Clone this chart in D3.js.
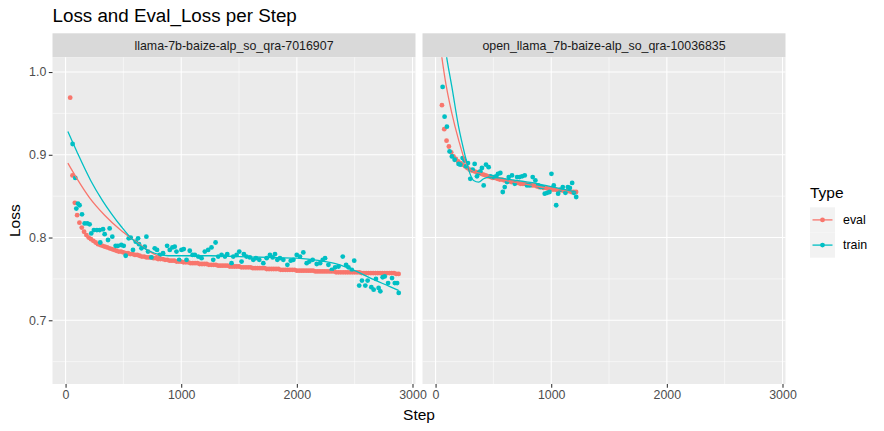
<!DOCTYPE html>
<html>
<head>
<meta charset="utf-8">
<script src="https://cdn.jsdelivr.net/npm/d3@7"></script>
<style>
  body { margin: 0; background: #fff; }
  text { font-family: "Liberation Sans", Arial, Helvetica, sans-serif; }
</style>
</head>
<body>
<svg id="chart" width="884" height="431"></svg>
<script>
const facetNames = ["llama-7b-baize-alp_so_qra-7016907", "open_llama_7b-baize-alp_so_qra-10036835"];
const typeNames = ["eval", "train"];
const typeColors = ["#F8766D", "#00BFC4"];
const xTicks = [0, 1000, 2000, 3000];
const yTicks = [0.7, 0.8, 0.9, 1.0];

// facet 1: llama-7b
const evalSteps1 = d3.range(40, 2881, 20);
const evalLoss1 = [
  .969, .875, .842, .827, .818, .812, .807, .803, .800, .798,
  .796, .794, .792, .791, .790, .789, .788, .787, .786, .785,
  .784, .783, .783, .782, .781, .781, .780, .780, .779, .779,
  .778, .777, .777, .776, .776, .776, .775, .775, .774, .774,
  .774, .773, .773, .772, .772, .772, .771, .771, .771,
  .770, .770, .770, .769, .769, .769, .769, .768, .768, .768,
  .768, .767, .767, .767, .767, .766, .766, .766, .766, .766,
  .765, .765, .765, .765, .765, .764, .764, .764, .764, .764,
  .763, .763, .763, .763, .763, .763, .762, .762, .762, .762,
  .762, .762, .761, .761, .761, .761, .761, .761, .761, .760,
  .760, .760, .760, .760, .760, .760, .760, .759, .759, .759,
  .759, .759, .759, .759, .759, .759, .758, .758, .758, .758,
  .758, .758, .758, .758, .758, .758, .758, .757, .757, .757,
  .757, .757, .757, .757, .757, .757, .757, .757, .757, .757,
  .757, .757, .756, .756
];
const trainSteps1 = [
  61, 84, 93, 107, 121, 142, 165, 188, 208, 222, 245, 271, 295, 300, 324, 338, 367, 381, 404, 433,
  453, 482, 503, 520, 546, 563, 583, 607, 627, 635, 656, 685, 699, 713, 742, 771, 791, 814, 843, 878,
  901, 924, 944, 959, 982, 1002, 1022, 1046, 1074, 1098, 1118, 1147, 1176, 1204, 1233, 1262, 1277, 1297, 1320, 1349,
  1378, 1398, 1435, 1450, 1479, 1502, 1522, 1542, 1565, 1594, 1623, 1646, 1675, 1710, 1739, 1767, 1791, 1811, 1831, 1854,
  1883, 1918, 1947, 1970, 1999, 2027, 2056, 2085, 2108, 2137, 2172, 2201, 2224, 2244, 2273, 2302, 2331, 2360, 2397, 2426,
  2446, 2475, 2496, 2539, 2563, 2592, 2612, 2644, 2664, 2684, 2707, 2722, 2742, 2760, 2789, 2823, 2847, 2867, 2881
];
const trainLoss1 = [
  .913, .872, .835, .841, .839, .828, .817, .817, .816, .805, .809, .809, .809, .794, .810, .804, .797, .811, .801, .790,
  .790, .791, .790, .778, .799, .800, .785, .795, .799, .792, .787, .789, .801, .783, .776, .787, .785, .779, .781, .790,
  .785, .788, .789, .783, .773, .785, .786, .773, .784, .779, .779, .777, .775, .783, .785, .788, .773, .794, .777, .779,
  .777, .780, .769, .777, .779, .783, .771, .780, .777, .776, .773, .775, .773, .769, .775, .779, .776, .780, .773, .775,
  .773, .767, .772, .773, .779, .777, .782, .769, .771, .773, .768, .769, .773, .775, .767, .761, .764, .765, .777, .767,
  .764, .761, .772, .742, .748, .742, .748, .740, .737, .750, .739, .735, .752, .753, .745, .751, .745, .745, .733
];
const evalFitSteps1 = [20, 104, 208, 338, 468, 598, 728, 858, 988, 1500, 2000, 2500, 2880];
const evalFitLoss1 = [.890, .870, .848, .827, .810, .796, .783, .774, .770, .765, .761, .758, .757];
const trainFitSteps1 = [20, 100, 217, 318, 396, 483, 569, 656, 771, 887, 1000, 1250, 1500, 1750, 2000, 2200, 2350, 2500, 2650, 2800, 2881];
const trainFitLoss1 = [.928, .903, .869, .845, .829, .813, .799, .789, .781, .778, .778, .778, .777, .776, .775, .772, .768, .760, .750, .741, .736];

// facet 2: open_llama_7b
const evalSteps2 = d3.range(55, 1220, 20);
const evalLoss2 = [
  .960, .931, .917, .910, .903, .898, .895, .892, .890, .888,
  .886, .884, .882, .881, .880, .879, .878, .877, .876, .875,
  .874, .873, .872, .872, .871, .870, .870, .869, .868, .868,
  .867, .867, .866, .866, .865, .865, .865, .864, .864, .863,
  .863, .862, .861, .861, .860, .860, .859, .859, .858, .858,
  .857, .857, .857, .856, .856, .856, .855, .855, .855
];
const trainSteps2 = [
  61, 78, 98, 121, 141, 165, 199, 214, 234, 251, 263, 280, 300, 321, 338, 358, 373, 387, 401, 416,
  436, 459, 476, 503, 523, 540, 560, 581, 598, 618, 633, 661, 685, 705, 725, 748, 771, 791, 814, 840,
  863, 887, 907, 927, 944, 965, 985, 1002, 1022, 1043, 1060, 1080, 1100, 1123, 1144, 1161, 1181, 1196, 1216
];
const trainLoss2 = [
  .982, .946, .934, .904, .898, .894, .889, .888, .896, .893, .886, .890, .871, .882, .889, .874, .878, .880, .884, .863,
  .888, .885, .874, .873, .874, .877, .878, .855, .861, .867, .873, .875, .865, .873, .873, .874, .875, .863, .863, .873,
  .869, .863, .861, .861, .853, .854, .855, .877, .863, .839, .853, .858, .861, .854, .861, .860, .866, .854, .849
];
const evalFitSteps2 = [50, 84, 141, 199, 257, 300, 400, 600, 800, 1000, 1215];
const evalFitLoss2 = [1.022, .990, .950, .918, .892, .882, .877, .869, .864, .859, .855];
const trainFitSteps2 = [61, 98, 141, 199, 257, 286, 329, 373, 416, 459, 550, 650, 750, 850, 950, 1050, 1150, 1216];
const trainFitLoss2 = [1.05, 1.016, .982, .934, .898, .882, .869, .867, .871, .873, .872, .870, .868, .866, .863, .860, .857, .855];

const facets = [
  { name: facetNames[0], left: 52.5,
    points: [[evalSteps1, evalLoss1], [trainSteps1, trainLoss1]],
    fits: [[evalFitSteps1, evalFitLoss1], [trainFitSteps1, trainFitLoss1]] },
  { name: facetNames[1], left: 422.5,
    points: [[evalSteps2, evalLoss2], [trainSteps2, trainLoss2]],
    fits: [[evalFitSteps2, evalFitLoss2], [trainFitSteps2, trainFitLoss2]] }
];

const stripTop = 33.3, panelTop = 57.3, panelBottom = 384, panelWidth = 363;
const height = panelBottom - panelTop;
const smallFont = "12.4px", baseFont = "15.5px", titleFont = "18.8px";

const xScale = d3.scaleLinear().domain([-113, 3026]).range([0, panelWidth]);
const yScale = d3.scaleLinear().domain([0.623, 1.0178]).range([height, 0]);

const svg = d3.select("#chart");
svg.append("rect").attr("width", 884).attr("height", 431).attr("fill", "#fff");

svg.append("text")
  .attr("x", 52.5).attr("y", 22)
  .attr("font-size", titleFont).attr("fill", "#000")
  .text("Loss and Eval_Loss per Step");

const zip = (xs, ys) => xs.map((s, i) => ({ step: s, loss: ys[i] }));

facets.forEach((f, fi) => {
  // strip
  svg.append("rect")
    .attr("x", f.left).attr("y", stripTop)
    .attr("width", panelWidth).attr("height", panelTop - stripTop)
    .attr("fill", "#d9d9d9");
  svg.append("text")
    .attr("x", f.left + panelWidth / 2).attr("y", (stripTop + panelTop) / 2)
    .attr("dy", "0.35em").attr("text-anchor", "middle")
    .attr("font-size", smallFont).attr("fill", "#1a1a1a")
    .text(f.name);

  const g = svg.append("g").attr("transform", "translate(" + f.left + "," + panelTop + ")");
  g.append("rect").attr("width", panelWidth).attr("height", height).attr("fill", "#ebebeb");

  // grid
  const minorX = [500, 1500, 2500], minorY = [0.65, 0.75, 0.85, 0.95];
  g.selectAll(".minor-x").data(minorX).enter().append("line")
    .attr("x1", d => xScale(d)).attr("x2", d => xScale(d)).attr("y1", 0).attr("y2", height)
    .attr("stroke", "#fff").attr("stroke-width", 0.53);
  g.selectAll(".minor-y").data(minorY).enter().append("line")
    .attr("y1", d => yScale(d)).attr("y2", d => yScale(d)).attr("x1", 0).attr("x2", panelWidth)
    .attr("stroke", "#fff").attr("stroke-width", 0.53);
  g.selectAll(".major-x").data(xTicks).enter().append("line")
    .attr("x1", d => xScale(d)).attr("x2", d => xScale(d)).attr("y1", 0).attr("y2", height)
    .attr("stroke", "#fff").attr("stroke-width", 1.07);
  g.selectAll(".major-y").data(yTicks).enter().append("line")
    .attr("y1", d => yScale(d)).attr("y2", d => yScale(d)).attr("x1", 0).attr("x2", panelWidth)
    .attr("stroke", "#fff").attr("stroke-width", 1.07);

  const clipId = "clip" + fi;
  g.append("clipPath").attr("id", clipId)
    .append("rect").attr("width", panelWidth).attr("height", height);
  const plot = g.append("g").attr("clip-path", "url(#" + clipId + ")");

  f.points.forEach((p, ti) => {
    plot.append("g").selectAll("circle")
      .data(zip(p[0], p[1]))
      .enter().append("circle")
      .attr("cx", d => xScale(d.step))
      .attr("cy", d => yScale(d.loss))
      .attr("r", 2.4)
      .attr("fill", typeColors[ti]);
  });

  const line = d3.line()
    .x(d => xScale(d.step))
    .y(d => yScale(d.loss))
    .curve(d3.curveMonotoneX);

  f.fits.forEach((p, ti) => {
    plot.append("path")
      .attr("d", line(zip(p[0], p[1])))
      .attr("fill", "none")
      .attr("stroke", typeColors[ti])
      .attr("stroke-width", 1.3);
  });

  // X axis
  const xAxis = g.append("g")
    .attr("transform", "translate(0," + height + ")")
    .call(d3.axisBottom(xScale).tickValues(xTicks).tickSize(3.7).tickPadding(2.5).tickFormat(d3.format("d")));
  xAxis.select(".domain").remove();
  xAxis.selectAll("line").attr("stroke", "#333").attr("stroke-width", 1.07);
  xAxis.selectAll("text").attr("fill", "#4d4d4d").attr("font-size", smallFont)
    .attr("font-family", "Liberation Sans, Arial, sans-serif");

  // Y axis only on first panel
  if (fi === 0) {
    const yAxis = g.append("g")
      .call(d3.axisLeft(yScale).tickValues(yTicks).tickSize(3.7).tickPadding(2.5).tickFormat(d3.format(".1f")));
    yAxis.select(".domain").remove();
    yAxis.selectAll("line").attr("stroke", "#333").attr("stroke-width", 1.07);
    yAxis.selectAll("text").attr("fill", "#4d4d4d").attr("font-size", smallFont)
      .attr("font-family", "Liberation Sans, Arial, sans-serif");
  }
});

// axis titles
svg.append("text")
  .attr("x", (52.5 + 422.5 + panelWidth) / 2).attr("y", 420)
  .attr("text-anchor", "middle").attr("font-size", baseFont).attr("fill", "#000")
  .text("Step");
svg.append("text")
  .attr("transform", "translate(20," + (panelTop + height / 2) + ") rotate(-90)")
  .attr("text-anchor", "middle").attr("font-size", baseFont).attr("fill", "#000")
  .text("Loss");

// legend
const legend = svg.append("g").attr("transform", "translate(810,0)");
legend.append("text")
  .attr("x", 0).attr("y", 198)
  .attr("font-size", baseFont).attr("fill", "#000")
  .text("Type");
const keys = legend.selectAll(".key").data(typeNames).enter().append("g")
  .attr("transform", (d, i) => "translate(0," + (207.3 + i * 25.2) + ")");
keys.append("rect").attr("width", 25).attr("height", 25.2).attr("fill", "#f2f2f2");
keys.append("line")
  .attr("x1", 2.5).attr("x2", 22.5).attr("y1", 12.6).attr("y2", 12.6)
  .attr("stroke", (d, i) => typeColors[i]).attr("stroke-width", 1.3);
keys.append("circle")
  .attr("cx", 12.5).attr("cy", 12.6).attr("r", 2.4)
  .attr("fill", (d, i) => typeColors[i]);
keys.append("text")
  .attr("x", 33).attr("y", 12.6).attr("dy", "0.35em")
  .attr("font-size", smallFont).attr("fill", "#000")
  .text(d => d);
</script>
</body>
</html>
